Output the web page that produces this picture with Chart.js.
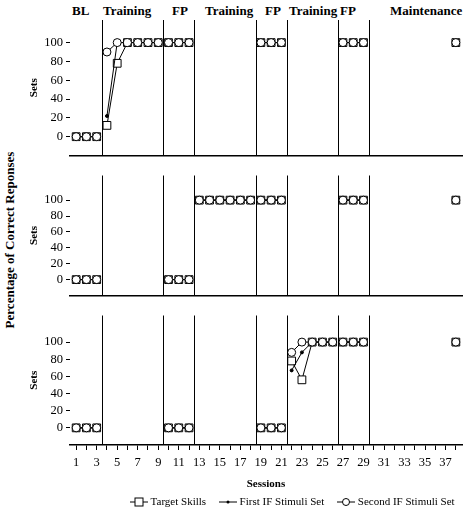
<!DOCTYPE html>
<html>
<head>
<meta charset="utf-8">
<script src="https://cdn.jsdelivr.net/npm/chart.js@4/dist/chart.umd.min.js"></script>
<style>
  body { margin: 0; background: #fff; }
  #wrap { position: relative; width: 474px; height: 509px; font-family: "Liberation Serif", serif; }
  canvas { position: absolute; left: 0; }
  .phase { position: absolute; top: 3px; font-weight: bold; font-size: 13px; }
  #ylab { position: absolute; left: 10px; top: 240px; transform: translate(-50%, -50%) rotate(-90deg);
          font-weight: bold; font-size: 13px; white-space: nowrap; }
  #legend { position: absolute; top: 495px; left: 130px; font-size: 11px; white-space: nowrap; }
  #legend span { margin-right: 10px; }
  #legend svg { vertical-align: middle; }
</style>
</head>
<body>
<div id="wrap">
  <div class="phase" style="left:72px">BL</div>
  <div class="phase" style="left:103px">Training</div>
  <div class="phase" style="left:172px">FP</div>
  <div class="phase" style="left:205px">Training</div>
  <div class="phase" style="left:265px">FP</div>
  <div class="phase" style="left:289px">Training</div>
  <div class="phase" style="left:340px">FP</div>
  <div class="phase" style="left:390px">Maintenance</div>
  <div id="ylab">Percentage of Correct Reponses</div>
  <canvas id="c1" style="top:0px"></canvas>
  <canvas id="c2" style="top:165px"></canvas>
  <canvas id="c3" style="top:305px"></canvas>
  <div id="legend">
    <span><svg width="18" height="10"><line x1="0" y1="5" x2="18" y2="5" stroke="#000"/><rect x="5" y="1" width="8" height="8" fill="#fff" stroke="#000"/></svg> Target Skills</span>
    <span><svg width="18" height="10"><line x1="0" y1="5" x2="18" y2="5" stroke="#000"/><circle cx="9" cy="5" r="1.5" fill="#000"/></svg> First IF Stimuli Set</span>
    <span><svg width="18" height="10"><line x1="0" y1="5" x2="18" y2="5" stroke="#000"/><circle cx="9" cy="5" r="3.5" fill="#fff" stroke="#000"/></svg> Second IF Stimuli Set</span>
  </div>
</div>
<script>
// sessions that were run, and phase change lines
const phaseLines = [3.5, 9.5, 12.5, 18.5, 21.5, 26.5, 29.5];
const tickLabels = [1, 3, 5, 7, 9, 11, 13, 15, 17, 19, 21, 23, 25, 27, 29, 31, 33, 35, 37];

// panel 1
const p1Sessions = [1, 2, 3, 4, 5, 6, 7, 8, 9, 10, 11, 12, 19, 20, 21, 27, 28, 29, 38];
const p1Target = [0, 0, 0, 12, 78, 100, 100, 100, 100, 100, 100, 100, 100, 100, 100, 100, 100, 100, 100];
const p1First  = [0, 0, 0, 22, 100, 100, 100, 100, 100, 100, 100, 100, 100, 100, 100, 100, 100, 100, 100];
const p1Second = [0, 0, 0, 90, 100, 100, 100, 100, 100, 100, 100, 100, 100, 100, 100, 100, 100, 100, 100];

// panel 2
const p2Sessions = [1, 2, 3, 10, 11, 12, 13, 14, 15, 16, 17, 18, 19, 20, 21, 27, 28, 29, 38];
const p2Target = [0, 0, 0, 0, 0, 0, 100, 100, 100, 100, 100, 100, 100, 100, 100, 100, 100, 100, 100];
const p2First  = [0, 0, 0, 0, 0, 0, 100, 100, 100, 100, 100, 100, 100, 100, 100, 100, 100, 100, 100];
const p2Second = [0, 0, 0, 0, 0, 0, 100, 100, 100, 100, 100, 100, 100, 100, 100, 100, 100, 100, 100];

// panel 3
const p3Sessions = [1, 2, 3, 10, 11, 12, 19, 20, 21, 22, 23, 24, 25, 26, 27, 28, 29, 38];
const p3Target = [0, 0, 0, 0, 0, 0, 0, 0, 0, 78, 56, 100, 100, 100, 100, 100, 100, 100];
const p3First  = [0, 0, 0, 0, 0, 0, 0, 0, 0, 67, 88, 100, 100, 100, 100, 100, 100, 100];
const p3Second = [0, 0, 0, 0, 0, 0, 0, 0, 0, 88, 100, 100, 100, 100, 100, 100, 100, 100];

const font = { family: "Liberation Serif", size: 12.5 };
Chart.defaults.color = "#000";

const crosses = (a, b) => phaseLines.some(p => a < p && b > p);

const phasePlugin = {
  id: "phases",
  afterDatasetsDraw(chart) {
    const { ctx, chartArea, scales } = chart;
    ctx.save();
    ctx.strokeStyle = "#000";
    ctx.lineWidth = 1;
    phaseLines.forEach(p => {
      const x = Math.round(scales.x.getPixelForValue(p)) + 0.5;
      ctx.beginPath();
      ctx.moveTo(x, chartArea.top);
      ctx.lineTo(x, chartArea.bottom);
      ctx.stroke();
    });
    ctx.restore();
  }
};

function makeDatasets(sessions, target, first, second) {
  const pts = arr => sessions.map((s, i) => ({ x: s, y: arr[i] }));
  const seg = { borderColor: c => crosses(c.p0.parsed.x, c.p1.parsed.x) ? "transparent" : "#000" };
  return [
    { label: "Target Skills", data: pts(target), pointStyle: "rect", pointRadius: 5.5,
      backgroundColor: "#fff", borderColor: "#000", borderWidth: 1, segment: seg },
    { label: "First IF Stimuli Set", data: pts(first), pointStyle: "circle", pointRadius: 1.5,
      backgroundColor: "#000", borderColor: "#000", borderWidth: 1, segment: seg },
    { label: "Second IF Stimuli Set", data: pts(second), pointStyle: "circle", pointRadius: 4,
      backgroundColor: "#fff", borderColor: "#000", borderWidth: 1, segment: seg }
  ];
}

function makeChart(id, h, padTop, yMax, sessions, t, f, s, showX) {
  const cv = document.getElementById(id);
  cv.width = 474; cv.height = h;
  cv.style.width = "474px"; cv.style.height = h + "px";
  return new Chart(cv, {
    type: "line",
    data: { datasets: makeDatasets(sessions, t, f, s).reverse() },
    options: {
      responsive: false, animation: false,
      layout: { padding: { left: 28, right: 12, top: padTop, bottom: 0 } },
      plugins: { legend: { display: false }, tooltip: { enabled: false } },
      scales: {
        x: {
          type: "linear", min: 0.4, max: 38.6,
          grid: { display: showX, drawOnChartArea: false, tickLength: 5, color: "#000" },
          border: { display: true, color: "#000", width: 1.5 },
          afterBuildTicks: sc => { sc.ticks = []; for (let i = 1; i <= 38; i++) sc.ticks.push({ value: i }); },
          afterFit: sc => { sc.height = showX ? 50 : 1; },
          ticks: { display: showX, font, autoSkip: false, maxRotation: 0, padding: 5,
                   callback: v => tickLabels.includes(v) ? v : "" },
          title: { display: showX, text: "Sessions", font: { family: "Liberation Serif", size: 11, weight: "bold" }, padding: { top: 6 } }
        },
        y: {
          min: -20, max: yMax,
          grid: { drawOnChartArea: false, tickLength: 4, color: "#000" },
          border: { display: false },
          afterBuildTicks: sc => { sc.ticks = [0, 20, 40, 60, 80, 100].map(v => ({ value: v })); },
          afterFit: sc => { sc.width = 42; },
          ticks: { font, padding: 3 },
          title: { display: true, text: "Sets", font: { family: "Liberation Serif", size: 11, weight: "bold" }, padding: 0 }
        }
      }
    },
    plugins: [phasePlugin]
  });
}

makeChart("c1", 166, 20, 124, p1Sessions, p1Target, p1First, p1Second, false);
makeChart("c2", 141, 0, 131, p2Sessions, p2Target, p2First, p2Second, false);
makeChart("c3", 190, 0, 131, p3Sessions, p3Target, p3First, p3Second, true);
</script>
</body>
</html>
